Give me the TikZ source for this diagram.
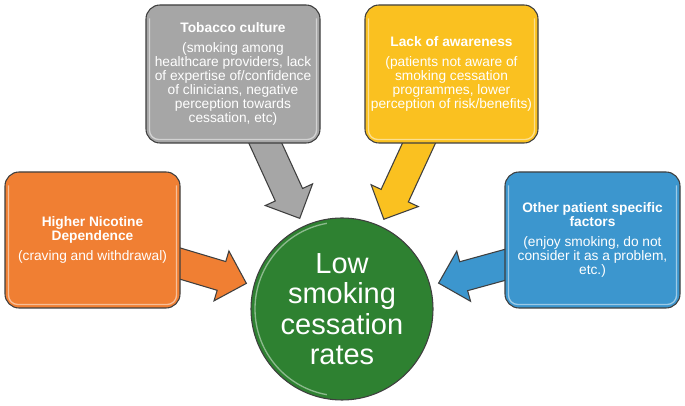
\documentclass[tikz,border=0pt]{standalone}
\usepackage{fontspec}
\setmainfont{Liberation Sans}
\usetikzlibrary{calc}
\pgfdeclarelayer{background}
\pgfsetlayers{background,main}
\definecolor{boxgray}{HTML}{A6A6A6}
\definecolor{boxyellow}{HTML}{FAC120}
\definecolor{boxorange}{HTML}{F07F33}
\definecolor{boxblue}{HTML}{3C96CE}
\definecolor{boxgreen}{HTML}{2E8131}
\definecolor{edgecol}{HTML}{3F3F3F}
\tikzset{
  box/.style={draw=edgecol, line width=0.8pt, rounded corners=10.5pt, text=white,
    align=center, inner sep=0pt, font=\fontsize{10.3}{10.5}\selectfont},
  arrowline/.style={draw=edgecol, line width=0.8pt, line join=miter},
  gloss/.style={draw=white, draw opacity=0.5, line width=1pt, rounded corners=7pt},
}
\newcommand{\blockarr}[3]{%
  \path ($(#1)!-8pt!(#2)$) coordinate (ba-s)
        ($(#2)!19.5pt!(#1)$) coordinate (ba-h);
  \filldraw[arrowline, fill=#3]
    ($(ba-s)!11.25pt!90:(#2)$) -- ($(ba-h)!11.25pt!90:(#2)$) --
    ($(ba-h)!19.5pt!90:(#2)$) -- (#2) -- ($(ba-h)!19.5pt!-90:(#2)$) --
    ($(ba-h)!11.25pt!-90:(#2)$) -- ($(ba-s)!11.25pt!-90:(#2)$) -- cycle;
}
\newcommand{\boxgloss}[1]{%
  \draw[gloss] ($(#1.north west)+(4,-14)$) -- ($(#1.south west)+(4,4)$) --
    ($(#1.south east)+(-4,4)$) -- ($(#1.north east)+(-4,-14)$);
}
\begin{document}
\begin{tikzpicture}[x=0.75pt,y=0.75pt]
\useasboundingbox (0,0) rectangle (685,406);

\node[box, fill=boxgray, minimum width=130.5pt, minimum height=103.5pt] (gray) at (233,332)
  {\textbf{Tobacco culture}\\[4.5pt]
   (smoking among\\ healthcare providers, lack\\ of expertise of/confidence\\
   of clinicians, negative\\ perception towards\\ cessation, etc)};
\node[box, fill=boxyellow, minimum width=129.75pt, minimum height=103.5pt] (yellow) at (451.5,332)
  {\textbf{Lack of awareness}\\[4.5pt]
   (patients not aware of\\ smoking cessation\\ programmes, lower\\ perception of risk/benefits)};
\node[box, fill=boxorange, minimum width=131.25pt, minimum height=102pt] (orange) at (92.5,166)
  {\textbf{Higher Nicotine}\\ \textbf{Dependence}\\[4.5pt] (craving and withdrawal)};
\node[box, fill=boxblue, minimum width=131.25pt, minimum height=102pt] (blue) at (592.5,166)
  {\textbf{Other patient specific}\\ \textbf{factors}\\[4.5pt]
   (enjoy smoking, do not\\ consider it as a problem,\\ etc.)};
\node[circle, draw=edgecol, line width=0.8pt, fill=boxgreen, minimum size=136.5pt,
  text=white, align=center, inner sep=0pt, font=\fontsize{21.75}{22.9}\selectfont] (c) at (342,97)
  {Low\\ smoking\\ cessation\\ rates};

\boxgloss{gray}
\boxgloss{yellow}
\boxgloss{orange}
\boxgloss{blue}
\draw[draw=white, draw opacity=0.45, line width=1pt] ($(c.center)+(100:87)$) arc[start angle=100, end angle=260, radius=87];

\coordinate (gs) at ($(gray.south)+(32.5,0)$);
\coordinate (gt) at ($(c.center)+(115:100)$);
\coordinate (ys) at ($(yellow.south)+(-32.7,0)$);
\coordinate (yt) at ($(c.center)+(65:99)$);
\coordinate (os) at ($(orange.east)+(0,-23.7)$);
\coordinate (ot) at ($(c.center)+(165:99)$);
\coordinate (bs) at ($(blue.west)+(0,-25)$);
\coordinate (bt) at ($(c.center)+(15:100)$);

\begin{pgfonlayer}{background}
  \fill[white] (0,0) rectangle (685,406);
  \blockarr{gs}{gt}{boxgray}
  \blockarr{ys}{yt}{boxyellow}
  \blockarr{os}{ot}{boxorange}
  \blockarr{bs}{bt}{boxblue}
\end{pgfonlayer}
\end{tikzpicture}
\end{document}
